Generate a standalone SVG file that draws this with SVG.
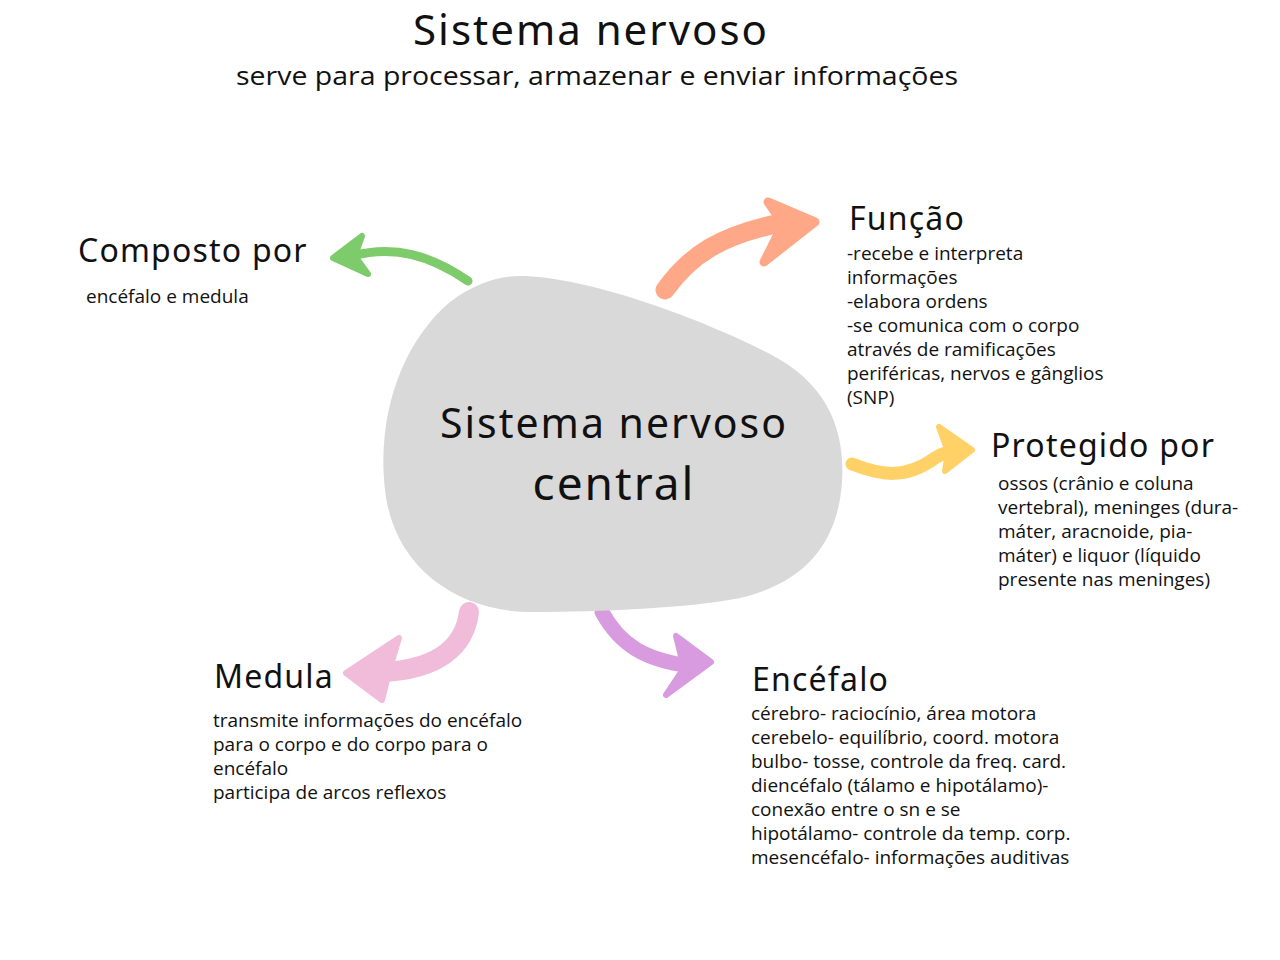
<svg xmlns="http://www.w3.org/2000/svg" width="1280" height="960" viewBox="0 0 1280 960">
<style>
.hand{font-family:"Noto Sans","Open Sans",sans-serif;fill:#111;letter-spacing:2px}
.hd{font-family:"Noto Sans","Open Sans",sans-serif;fill:#111;letter-spacing:1.2px;font-size:32px}
.body{font-family:"Open Sans","Noto Sans",sans-serif;font-size:19px;fill:#111}
.arr{fill:none;stroke-linecap:round;stroke-linejoin:round}
</style>
<rect width="1280" height="960" fill="#fff"/>
<g id="title">
<text class="hand" x="591" y="45" font-size="42" text-anchor="middle">Sistema nervoso</text>
<text x="597" y="85" font-family="Open Sans, sans-serif" font-size="26" fill="#111" text-anchor="middle" textLength="722" lengthAdjust="spacingAndGlyphs">serve para processar, armazenar e enviar informações</text>
</g>
<g id="connectors">
<path class="arr" d="M468,281 C430,255 395,245 352,256" stroke="#7dcb6a" stroke-width="9"/>
<path d="M333,258 L362,236 L355,256 L368,274 Z" fill="#7dcb6a" stroke="#7dcb6a" stroke-width="6" stroke-linejoin="round"/>
<path class="arr" d="M665,290 C690,255 720,235 785,222" stroke="#ffa888" stroke-width="19"/>
<path d="M815,222 L768,202 L783,224 L764,262 Z" fill="#ffa888" stroke="#ffa888" stroke-width="9" stroke-linejoin="round"/>
<path class="arr" d="M852,464 C880,475 905,480 935,458 C945,452 952,450 960,450" stroke="#ffd166" stroke-width="13"/>
<path d="M972,450 L939,427 L948,452 L945,471 Z" fill="#ffd166" stroke="#ffd166" stroke-width="6" stroke-linejoin="round"/>
<path class="arr" d="M469,612 C465,645 440,670 380,672" stroke="#f0bcd9" stroke-width="20"/>
<path d="M346,673 L399,638 L390,668 L382,700 Z" fill="#f0bcd9" stroke="#f0bcd9" stroke-width="6" stroke-linejoin="round"/>
<path class="arr" d="M602,612 C620,645 645,660 690,666" stroke="#d89be0" stroke-width="15"/>
<path d="M711,662 L676,636 L684,668 L666,695 Z" fill="#d89be0" stroke="#d89be0" stroke-width="6" stroke-linejoin="round"/>
</g>
<g id="center">
<path d="M520,276 C585,276 700,318 770,354 C828,384 845,430 842,482 C838,540 808,582 740,598 C690,608 600,612 532,612 C460,612 394,570 385,490 C376,410 405,340 450,302 C475,283 500,276 520,276 Z" fill="#d9d9d9"/>
<text class="hand" x="614" y="438" font-size="41" text-anchor="middle">Sistema nervoso</text>
<text class="hand" x="614" y="500" font-size="46" text-anchor="middle">central</text>
</g>
<g id="composto">
<text class="hd" x="78" y="262">Composto por</text>
<text class="body" x="86" y="303">encéfalo e medula</text>
</g>
<g id="funcao">
<text class="hd" x="849" y="230">Função</text>
<text class="body" x="847" y="260">-recebe e interpreta</text>
<text class="body" x="847" y="284">informações</text>
<text class="body" x="847" y="308">-elabora ordens</text>
<text class="body" x="847" y="332">-se comunica com o corpo</text>
<text class="body" x="847" y="356">através de ramificações</text>
<text class="body" x="847" y="380">periféricas, nervos e gânglios</text>
<text class="body" x="847" y="404">(SNP)</text>
</g>
<g id="protegido">
<text class="hd" x="991" y="457">Protegido por</text>
<text class="body" x="998" y="490">ossos (crânio e coluna</text>
<text class="body" x="998" y="514">vertebral), meninges (dura-</text>
<text class="body" x="998" y="538">máter, aracnoide, pia-</text>
<text class="body" x="998" y="562">máter) e liquor (líquido</text>
<text class="body" x="998" y="586">presente nas meninges)</text>
</g>
<g id="medula">
<text class="hd" x="214" y="688">Medula</text>
<text class="body" x="213" y="727">transmite informações do encéfalo</text>
<text class="body" x="213" y="751">para o corpo e do corpo para o</text>
<text class="body" x="213" y="775">encéfalo</text>
<text class="body" x="213" y="799">participa de arcos reflexos</text>
</g>
<g id="encefalo">
<text class="hd" x="752" y="691">Encéfalo</text>
<text class="body" x="751" y="720">cérebro- raciocínio, área motora</text>
<text class="body" x="751" y="744">cerebelo- equilíbrio, coord. motora</text>
<text class="body" x="751" y="768">bulbo- tosse, controle da freq. card.</text>
<text class="body" x="751" y="792">diencéfalo (tálamo e hipotálamo)-</text>
<text class="body" x="751" y="816">conexão entre o sn e se</text>
<text class="body" x="751" y="840">hipotálamo- controle da temp. corp.</text>
<text class="body" x="751" y="864">mesencéfalo- informações auditivas</text>
</g>
</svg>
